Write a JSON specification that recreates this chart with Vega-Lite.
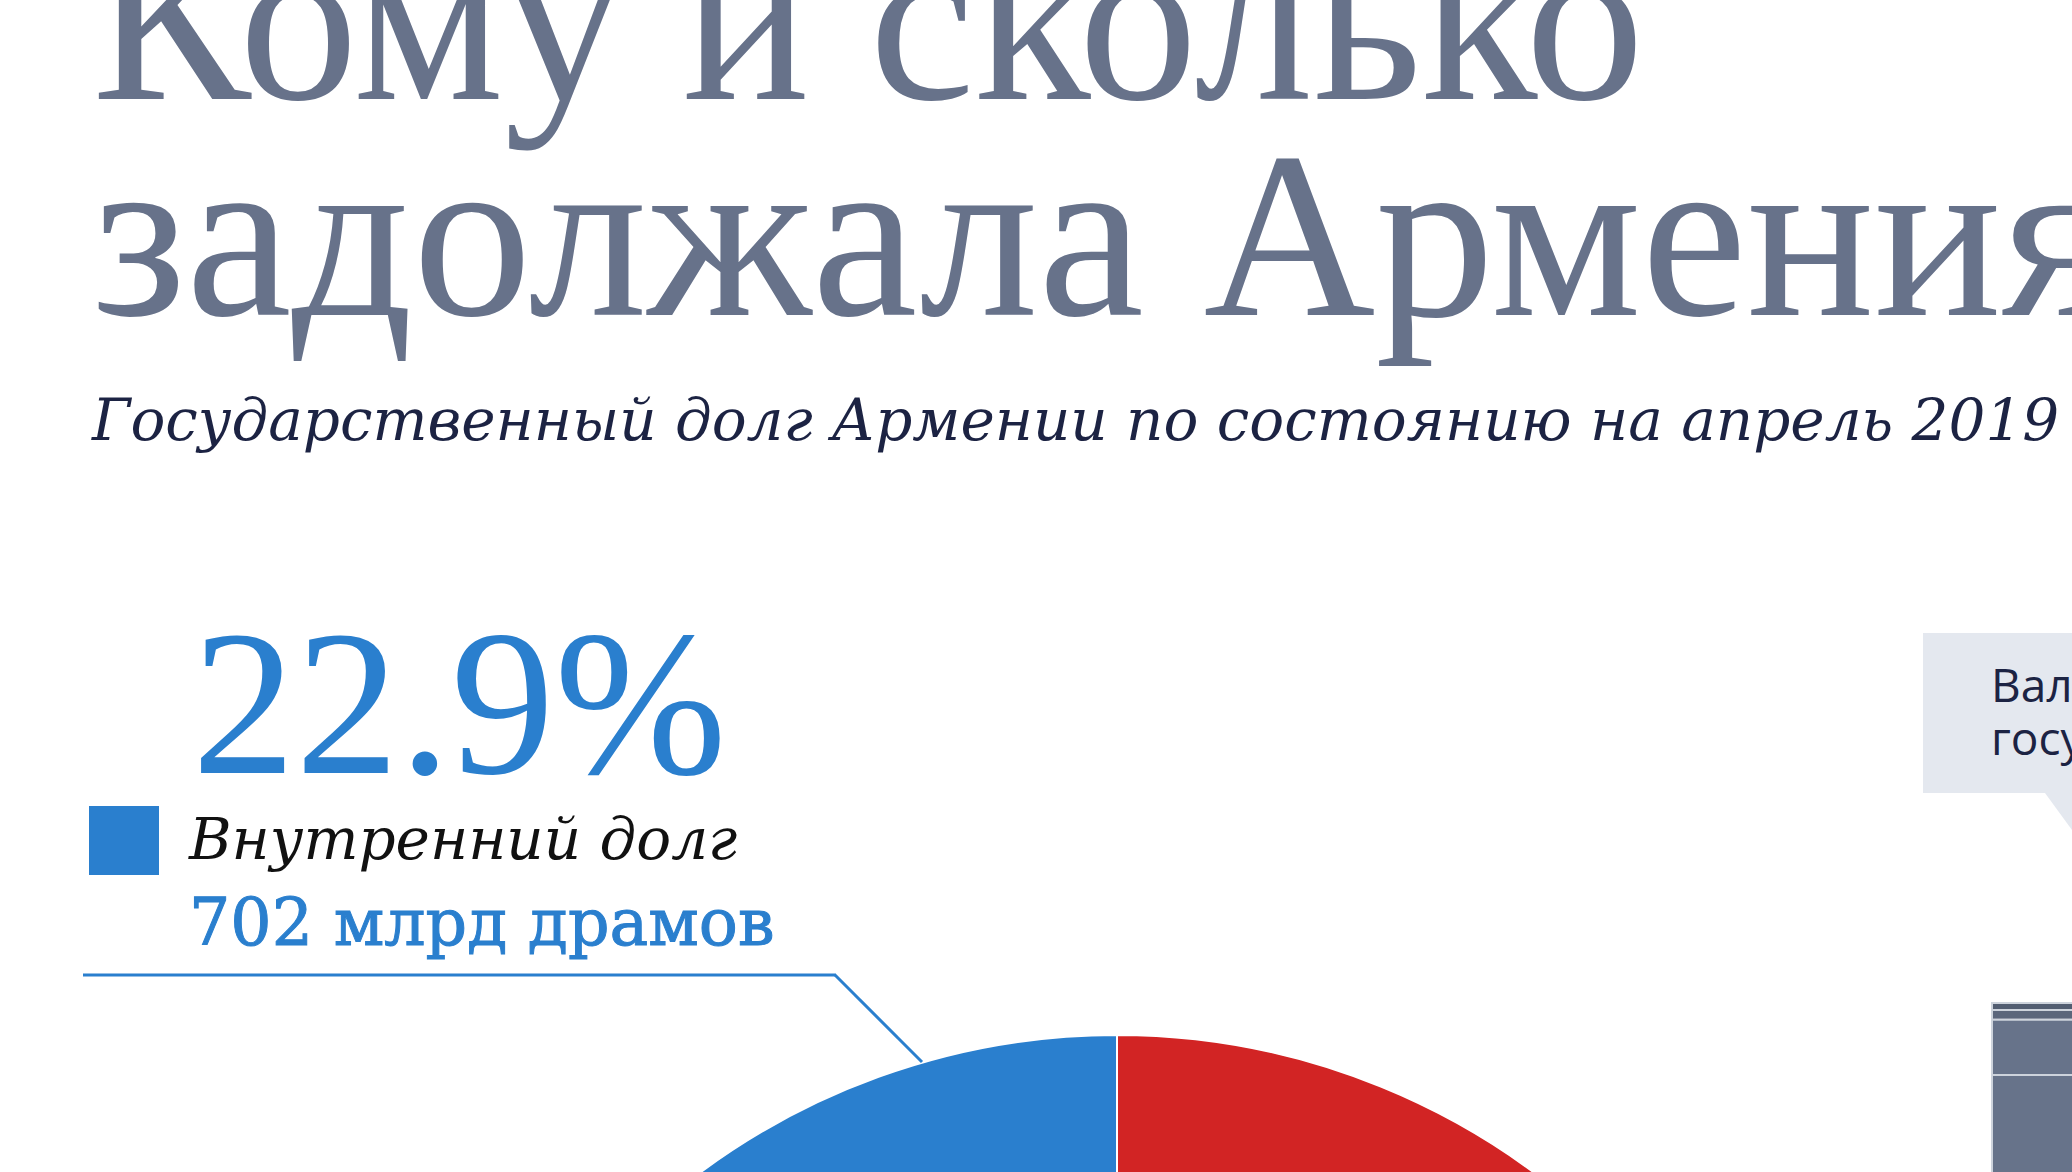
{
  "$schema": "https://vega.github.io/schema/vega-lite/v6.json",
  "description": "Кому и сколько задолжала Армения",
  "width": 2072,
  "height": 1172,
  "padding": 0,
  "autosize": {"type": "none"},
  "background": "white",
  "config": {"view": {"stroke": null}, "axis": {"disable": true}},
  "layer": [
    {
      "layer": [
        {
          "data": {"values": [{"part": "Внешний долг", "share": 77.1, "rank": 1}, {"part": "Внутренний долг", "share": 22.9, "rank": 2}]},
          "mark": {"type": "arc", "outerRadius": 700, "stroke": "white", "strokeWidth": 2},
          "encoding": {
            "theta": {"field": "share", "type": "quantitative", "stack": true},
            "order": {"field": "rank"},
            "color": {"field": "part", "type": "nominal", "legend": null,
              "scale": {"domain": ["Внешний долг", "Внутренний долг"], "range": ["#d22424", "#2a7fce"]}},
            "x": {"datum": 1117, "type": "quantitative", "scale": {"domain": [0, 2072], "nice": false, "zero": false}},
            "y": {"datum": 1735, "type": "quantitative", "scale": {"domain": [0, 1172], "reverse": true, "nice": false, "zero": false}}
          }
        },
        {
          "data": {"values": [{"text": "Кому и сколько"}]},
          "mark": {"type": "text", "font": "Liberation Serif", "fontSize": 238, "color": "#67728a", "align": "left", "baseline": "alphabetic"},
          "encoding": {
            "text": {"field": "text"},
            "x": {"datum": 92, "type": "quantitative", "scale": {"domain": [0, 2072], "nice": false, "zero": false}},
            "y": {"datum": 99, "type": "quantitative", "scale": {"domain": [0, 1172], "reverse": true, "nice": false, "zero": false}}
          }
        },
        {
          "data": {"values": [{"text": "задолжала Армения"}]},
          "mark": {"type": "text", "font": "Liberation Serif", "fontSize": 238, "color": "#67728a", "align": "left", "baseline": "alphabetic"},
          "encoding": {
            "text": {"field": "text"},
            "x": {"datum": 92, "type": "quantitative"},
            "y": {"datum": 315, "type": "quantitative"}
          }
        },
        {
          "data": {"values": [{"text": "Государственный долг Армении по состоянию на апрель 2019 года"}]},
          "mark": {"type": "text", "font": "DejaVu Serif", "fontStyle": "italic", "fontSize": 58, "color": "#1c2343", "align": "left", "baseline": "alphabetic"},
          "encoding": {
            "text": {"field": "text"},
            "x": {"datum": 92, "type": "quantitative"},
            "y": {"datum": 440, "type": "quantitative"}
          }
        },
        {
          "data": {"values": [{"text": "22.9%"}]},
          "mark": {"type": "text", "font": "Liberation Serif", "fontSize": 207, "color": "#2a7fce", "align": "left", "baseline": "alphabetic"},
          "encoding": {
            "text": {"field": "text"},
            "x": {"datum": 192, "type": "quantitative"},
            "y": {"datum": 773, "type": "quantitative"}
          }
        },
        {
          "data": {"values": [{"part": "Внутренний долг"}]},
          "mark": {"type": "rect", "color": "#2a7fce"},
          "encoding": {
            "x": {"datum": 89, "type": "quantitative"},
            "x2": {"datum": 159},
            "y": {"datum": 806, "type": "quantitative"},
            "y2": {"datum": 875}
          }
        },
        {
          "data": {"values": [{"text": "Внутренний долг"}]},
          "mark": {"type": "text", "font": "DejaVu Serif", "fontStyle": "italic", "fontSize": 58, "color": "#111111", "align": "left", "baseline": "alphabetic"},
          "encoding": {
            "text": {"field": "text"},
            "x": {"datum": 189, "type": "quantitative"},
            "y": {"datum": 859, "type": "quantitative"}
          }
        },
        {
          "data": {"values": [{"text": "702 млрд драмов"}]},
          "mark": {"type": "text", "font": "DejaVu Serif", "fontSize": 65, "color": "#2a7fce", "align": "left", "baseline": "alphabetic", "stroke": "#2a7fce", "strokeWidth": 1},
          "encoding": {
            "text": {"field": "text"},
            "x": {"datum": 189, "type": "quantitative"},
            "y": {"datum": 945, "type": "quantitative"}
          }
        },
        {
          "data": {"values": [{"leg": "horizontal"}]},
          "mark": {"type": "rule", "color": "#2a7fce", "strokeWidth": 3},
          "encoding": {
            "x": {"datum": 83, "type": "quantitative"},
            "x2": {"datum": 836},
            "y": {"datum": 975, "type": "quantitative"},
            "y2": {"datum": 975}
          }
        },
        {
          "data": {"values": [{"leg": "diagonal"}]},
          "mark": {"type": "rule", "color": "#2a7fce", "strokeWidth": 3},
          "encoding": {
            "x": {"datum": 835, "type": "quantitative"},
            "x2": {"datum": 922},
            "y": {"datum": 975, "type": "quantitative"},
            "y2": {"datum": 1062}
          }
        },
        {
          "data": {"values": [{"box": "callout"}]},
          "mark": {"type": "rect", "color": "#e4e8ef"},
          "encoding": {
            "x": {"datum": 1923, "type": "quantitative"},
            "x2": {"datum": 2090},
            "y": {"datum": 633, "type": "quantitative"},
            "y2": {"datum": 793}
          }
        },
        {
          "data": {"values": [{"box": "tail"}]},
          "mark": {"type": "point", "shape": "M-0.73,-1L0.73,-1L0.73,1Z", "size": 1369, "filled": true, "opacity": 1, "color": "#e4e8ef"},
          "encoding": {
            "x": {"datum": 2058.5, "type": "quantitative"},
            "y": {"datum": 811.5, "type": "quantitative"}
          }
        },
        {
          "data": {"values": [{"text": "Валютная структура", "line": 1}, {"text": "государственного долга", "line": 2}]},
          "mark": {"type": "text", "font": "Open Sans", "fontSize": 46, "color": "#1c2343", "align": "left", "baseline": "alphabetic"},
          "encoding": {
            "text": {"field": "text"},
            "x": {"datum": 1991, "type": "quantitative"},
            "y": {"datum": 702, "type": "quantitative"},
            "yOffset": {"field": "line", "type": "quantitative", "scale": {"domain": [1, 2], "range": [0, 53]}}
          }
        }
      ]
    },
    {
      "data": {"values": [
        {"segment": "a", "share": 1.0, "rank": 1},
        {"segment": "b", "share": 1.4, "rank": 2},
        {"segment": "c", "share": 7.9, "rank": 3},
        {"segment": "d", "share": 89.7, "rank": 4}
      ]},
      "transform": [
        {"stack": "share", "groupby": [], "sort": [{"field": "rank", "order": "ascending"}], "as": ["share_start", "share_end"]}
      ],
      "mark": {"type": "rect", "stroke": "#cdd3dc", "strokeWidth": 2, "opacity": 1},
      "encoding": {
        "x": {"datum": 1992, "type": "quantitative", "scale": {"domain": [0, 2072], "nice": false, "zero": false}},
        "x2": {"datum": 2110},
        "y": {"field": "share_start", "type": "quantitative",
          "scale": {"domain": [-143.2857, 24.1429], "reverse": true, "nice": false, "zero": false}},
        "y2": {"field": "share_end"},
        "color": {"field": "segment", "type": "nominal", "legend": null,
          "scale": {"domain": ["a", "b", "c", "d"], "range": ["#525d71", "#5b667b", "#67738a", "#67738a"]}}
      }
    }
  ],
  "resolve": {"scale": {"y": "independent", "color": "independent"}}
}
